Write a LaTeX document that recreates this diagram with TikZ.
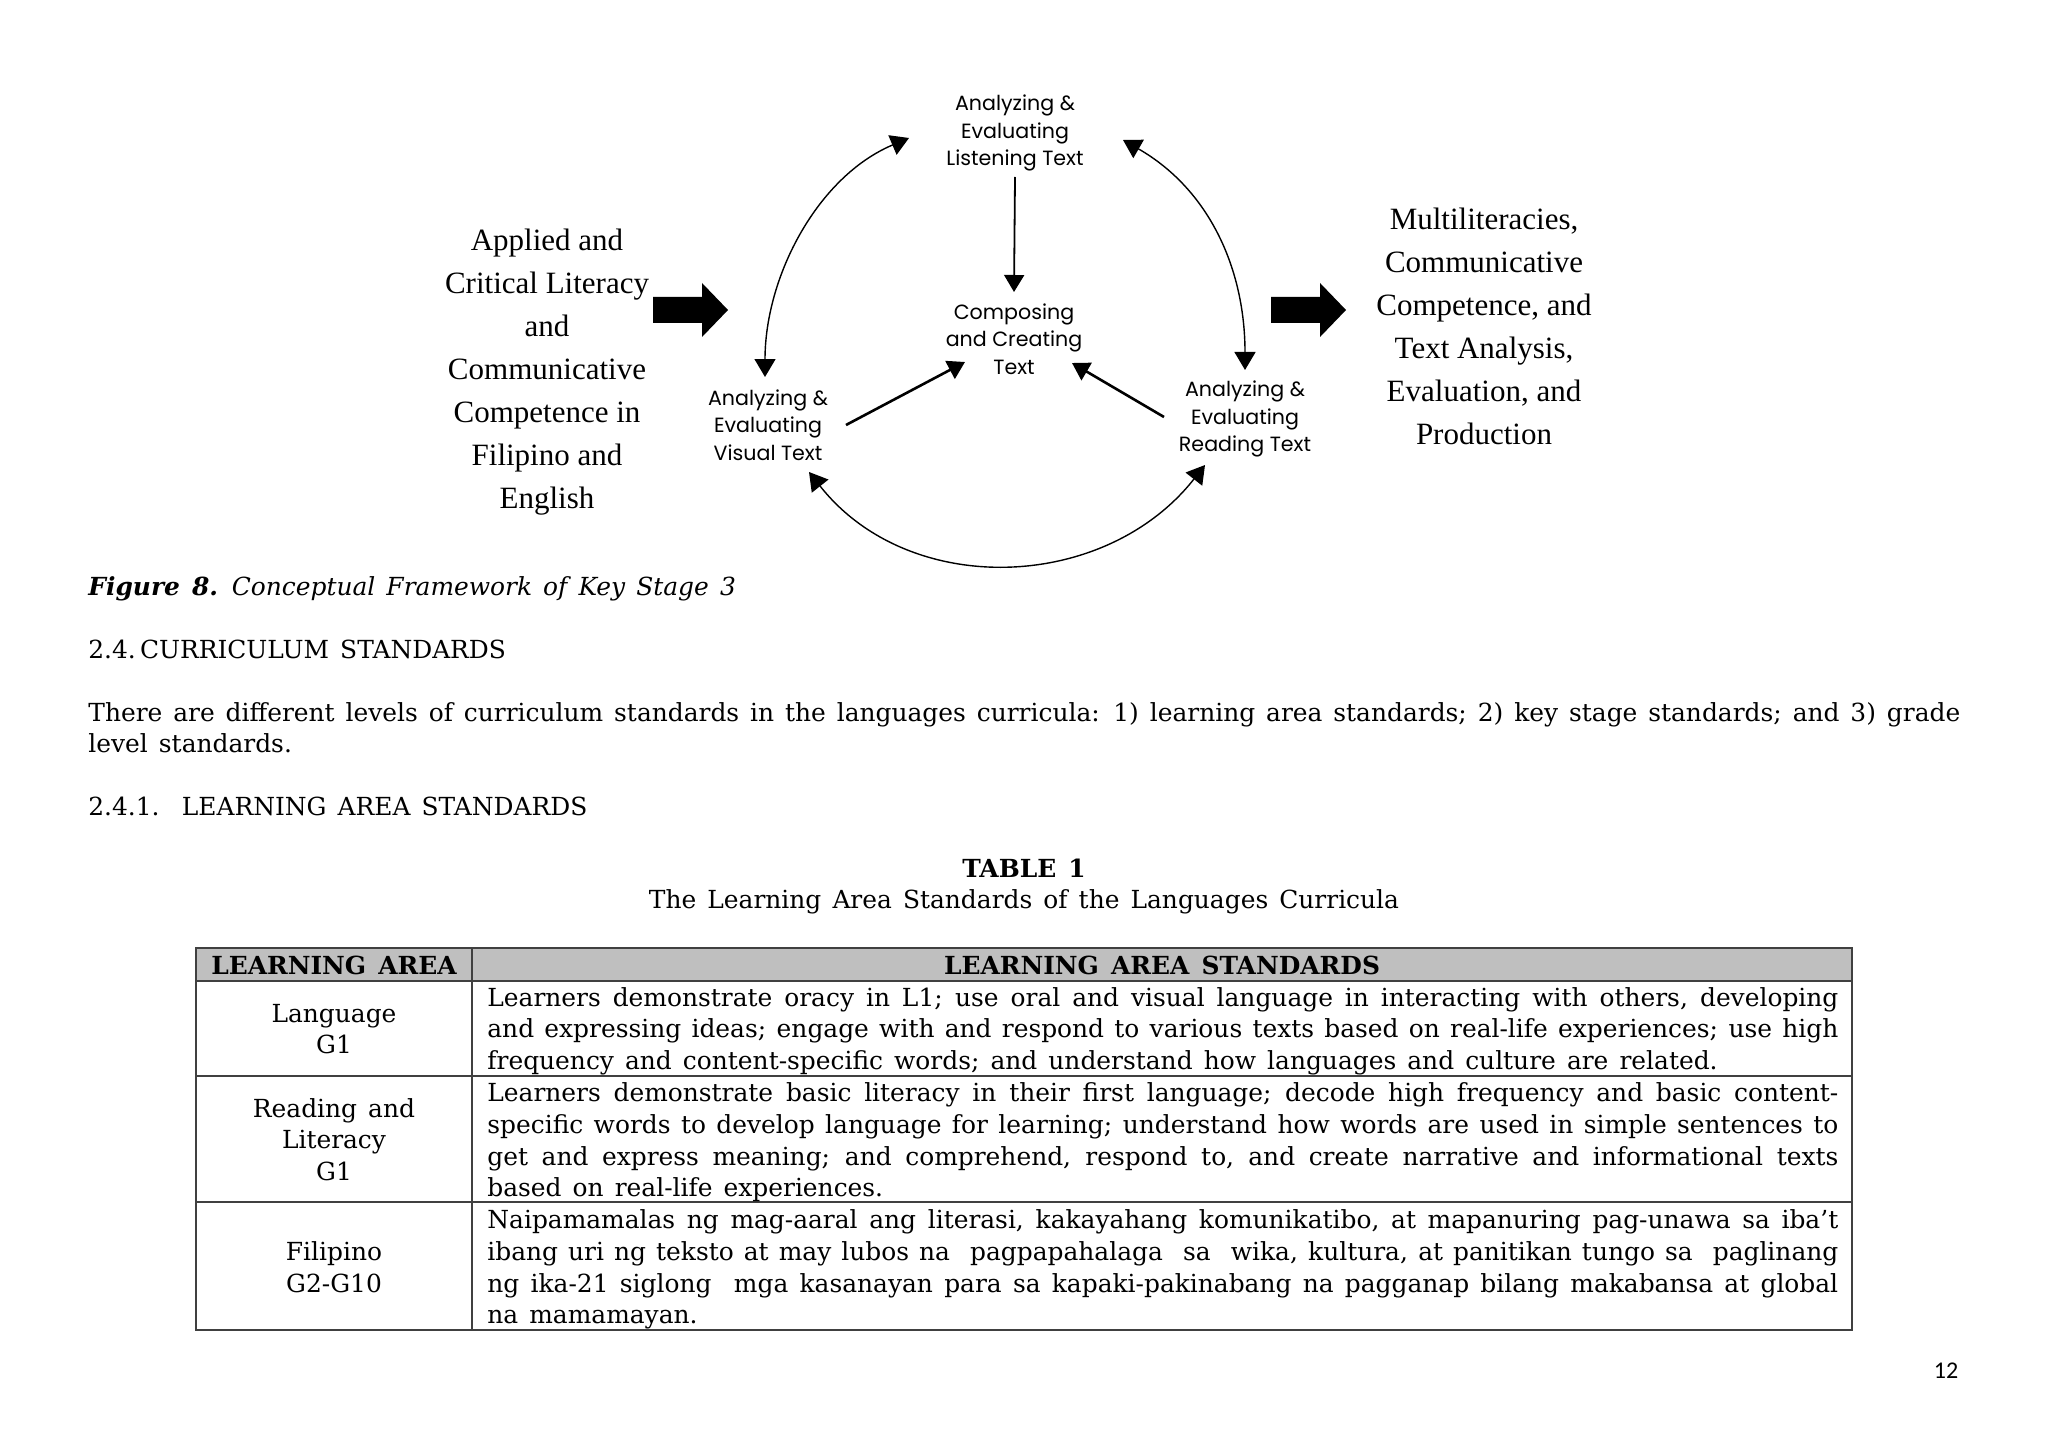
\documentclass[tikz,border=0pt]{standalone}
\usepackage{fontspec}
\setmainfont{DejaVu Serif}[WordSpace=1.4]
\newfontfamily\garfont{Liberation Serif}
\newfontfamily\gothfont{Poppins}
\newfontfamily\calfont{Carlito}
\usetikzlibrary{arrows.meta,calc}
\begin{document}
\begin{tikzpicture}[x=0.5pt,y=-0.5pt,
  lab/.style={font=\gothfont\fontsize{10.3pt}{13.75pt}\selectfont, align=center, inner sep=0pt},
  gar/.style={font=\garfont\fontsize{15.5pt}{21.5pt}\selectfont, align=center, inner sep=0pt},
  bodytxt/.style={font=\fontsize{12.45pt}{15.75pt}\selectfont, inner sep=0pt, anchor=base west},
  bodyctr/.style={font=\fontsize{12.45pt}{15.75pt}\selectfont, inner sep=0pt, anchor=base},
  conn/.style={-{Triangle[length=8.5pt,width=10pt]}, line width=1.3pt},
  thinconn/.style={-{Triangle[length=8.5pt,width=10pt]}, line width=0.9pt},
  arcarrow/.style={{Triangle[length=9pt,width=10.5pt]}-{Triangle[length=9pt,width=10.5pt]}, line width=0.7pt},
  tline/.style={draw=black!75, line width=0.8pt}
]
\useasboundingbox (0,0) rectangle (2048,1449);
\fill[white] (0,0) rectangle (2048,1449);

% ---------- diagram ----------
\node[lab] (listen) at (1015,133) {Analyzing \&\\Evaluating\\Listening Text};
\node[lab] (comp) at (1014,339) {Composing\\and Creating\\Text};
\node[lab] (visual) at (768,425) {Analyzing \&\\Evaluating\\Visual Text};
\node[lab] (reading) at (1245,419) {Analyzing \&\\Evaluating\\Reading Text};

\node[gar] (lefttxt) at (547,372) {Applied and\\Critical Literacy\\and\\Communicative\\Competence in\\Filipino and\\English};
\node[gar] (righttxt) at (1484,326) {Multiliteracies,\\Communicative\\Competence, and\\Text Analysis,\\Evaluation, and\\Production};

\draw[thinconn] ([shift={(0,44)}]listen.center) -- ([shift={(0,-47)}]comp.center);
\draw[conn] ([shift={(78,0)}]visual.center) -- ([shift={(-49,23)}]comp.center);
\draw[conn] ([shift={(-81,-2)}]reading.center) -- ([shift={(58,24)}]comp.center);

\draw[arcarrow] ([shift={(-106,5)}]listen.center) .. controls (817,177) and (765,277) .. ([shift={(-3,-48)}]visual.center);
\draw[arcarrow] ([shift={(108,7)}]listen.center) .. controls (1210,190) and (1245,270) .. ([shift={(0,-49)}]reading.center);
\draw[arcarrow] ([shift={(41,47)}]visual.center) .. controls (909,599) and (1105,592) .. ([shift={(-40,46)}]reading.center);

\fill (653,297) -- (702,297) -- (702,283) -- (728,310) -- (702,337) -- (702,323) -- (653,323) -- cycle;
\fill (1271,297) -- (1320,297) -- (1320,283) -- (1346,310) -- (1320,337) -- (1320,323) -- (1271,323) -- cycle;

% ---------- text ----------
\node[bodytxt] (cap) at (88,595) {{\bfseries\itshape Figure 8.} {\itshape Conceptual Framework of Key Stage 3}};
\node[bodytxt] (sec1) at (88,658) {2.4.\,CURRICULUM STANDARDS};
\node[bodytxt] (par1) at (88,721) {\makebox[936pt][s]{There are different levels of curriculum standards in the languages curricula: 1) learning area standards; 2) key stage standards; and 3) grade}};
\node[bodytxt] (par2) at (88,752) {level standards.};
\node[bodytxt] (sec2) at (88,815) {2.4.1.\ \ LEARNING AREA STANDARDS};
\node[bodyctr] (ttitle) at (1024,877) {\bfseries TABLE 1};
\node[bodyctr] (tsub) at (1024,908) {The Learning Area Standards of the Languages Curricula};

% ---------- table ----------
\fill[black!25] (196,948) rectangle (1852,981);
\draw[tline] (196,948) rectangle (1852,1330);
\draw[tline] (196,981) -- (1852,981);
\draw[tline] (196,1076) -- (1852,1076);
\draw[tline] (196,1202) -- (1852,1202);
\draw[tline] (472,948) -- (472,1330);

\node[bodyctr] (h1) at (334,974) {\bfseries LEARNING AREA};
\node[bodyctr] (h2) at (1162,974) {\bfseries LEARNING AREA STANDARDS};

\node[bodyctr] (a1) at (334,1022) {Language};
\node[bodyctr] (a2) at (334,1053) {G1};
\node[bodyctr] (b1) at (334,1117) {Reading and};
\node[bodyctr] (b2) at (334,1148) {Literacy};
\node[bodyctr] (b3) at (334,1180) {G1};
\node[bodyctr] (c1) at (334,1260) {Filipino};
\node[bodyctr] (c2) at (334,1292) {G2-G10};

\node[bodytxt] (r1a) at (487,1006) {\makebox[675.5pt][s]{Learners demonstrate oracy in L1; use oral and visual language in interacting with others, developing}};
\node[bodytxt] (r1b) at (487,1037) {\makebox[675.5pt][s]{and expressing ideas; engage with and respond to various texts based on real-life experiences; use high}};
\node[bodytxt] (r1c) at (487,1069) {frequency and content-specific words; and understand how languages and culture are related.};

\node[bodytxt] (r2a) at (487,1101) {\makebox[675.5pt][s]{Learners demonstrate basic literacy in their first language; decode high frequency and basic content-}};
\node[bodytxt] (r2b) at (487,1133) {\makebox[675.5pt][s]{specific words to develop language for learning; understand how words are used in simple sentences to}};
\node[bodytxt] (r2c) at (487,1165) {\makebox[675.5pt][s]{get and express meaning; and comprehend, respond to, and create narrative and informational texts}};
\node[bodytxt] (r2d) at (487,1196) {based on real-life experiences.};

\node[bodytxt] (r3a) at (487,1228) {\makebox[675.5pt][s]{Naipamamalas ng mag-aaral ang literasi, kakayahang komunikatibo, at mapanuring pag-unawa sa iba’t}};
\node[bodytxt] (r3b) at (487,1260) {\makebox[675.5pt][s]{ibang uri ng teksto at may lubos na\ \ pagpapahalaga\ \ sa\ \ wika, kultura, at panitikan tungo sa\ \ paglinang}};
\node[bodytxt] (r3c) at (487,1292) {\makebox[675.5pt][s]{ng ika-21 siglong\ \ mga kasanayan para sa kapaki-pakinabang na pagganap bilang makabansa at global}};
\node[bodytxt] (r3d) at (487,1323) {na mamamayan.};

\node[font=\calfont\fontsize{12pt}{14pt}\selectfont, inner sep=0pt, anchor=base] (pgno) at (1946,1378) {12};
\end{tikzpicture}
\end{document}
